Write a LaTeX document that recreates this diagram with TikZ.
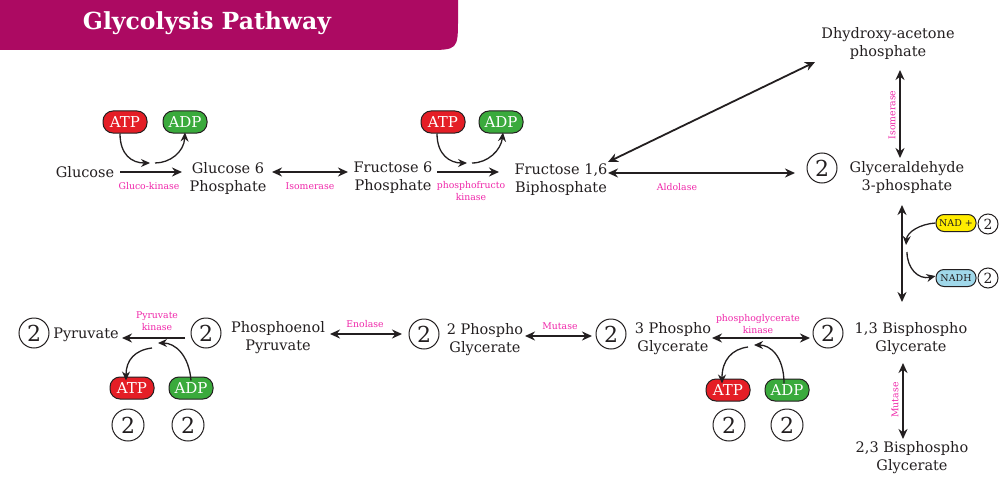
\documentclass[tikz,border=0pt]{standalone}
\usepackage{fontspec}
\setmainfont{DejaVu Serif}
\usetikzlibrary{arrows.meta}
\definecolor{banner}{RGB}{172,10,98}
\definecolor{enz}{RGB}{240,40,170}
\definecolor{atpred}{RGB}{228,30,38}
\definecolor{adpgreen}{RGB}{58,170,60}
\definecolor{nadyellow}{RGB}{255,236,0}
\definecolor{nadhblue}{RGB}{160,216,234}
\definecolor{ink}{RGB}{35,31,32}
\begin{document}
\begin{tikzpicture}[x=1pt,y=-1pt,
 mol/.style={font=\fontsize{14.5}{18}\selectfont, align=center, text=ink, inner sep=0pt},
 enzyme/.style={font=\fontsize{9.3}{12}\selectfont, text=enz, align=center, inner sep=0pt},
 pill/.style={draw=ink, line width=1pt, rounded corners=10pt, minimum width=44pt, minimum height=22pt, inner sep=0pt, text=white, font=\fontsize{15}{15}\selectfont},
 smallpill/.style={pill, rounded corners=8pt, minimum width=40pt, minimum height=17pt, text=ink, font=\fontsize{9.5}{9.5}\selectfont},
 num/.style={circle, draw=ink, line width=1pt, minimum size=30pt, inner sep=0pt, font=\fontsize{22}{22}\selectfont, text=ink},
 smallnum/.style={num, minimum size=20pt, font=\fontsize{14}{14}\selectfont},
 conn/.style={draw=ink, line width=1.8pt, -{Stealth[length=10pt,width=9pt]}},
 dconn/.style={draw=ink, line width=1.8pt, {Stealth[length=10pt,width=9pt]}-{Stealth[length=10pt,width=9pt]}},
 curv/.style={draw=ink, line width=1.3pt, -{Stealth[length=9pt,width=8pt]}},
]
\useasboundingbox (0,0) rectangle (1000,476);
\fill[white] (0,0) rectangle (1000,476);
% banner
\fill[banner] (0,0) -- (458,0) -- (458,18) .. controls (458,50) .. (426,50) -- (0,50) -- cycle;
\node[font=\bfseries\fontsize{23.5}{23.5}\selectfont, text=white, inner sep=0pt] (title) at (207,23) {Glycolysis Pathway};

% molecules
\node[mol] (glucose) at (85,172) {Glucose};
\node[mol] (g6p) at (228,178) {Glucose 6\\Phosphate};
\node[mol] (f6p) at (393,178) {Fructose 6\\Phosphate};
\node[mol] (f16bp) at (561,180) {Fructose 1,6\\Biphosphate};
\node[mol] (dhap) at (888,44) {Dhydroxy-acetone\\phosphate};
\node[mol] (gap) at (907,177) {Glyceraldehyde\\3-phosphate};
\node[mol] (bpg13) at (911,339) {1,3 Bisphospho\\Glycerate};
\node[mol] (bpg23) at (912,458) {2,3 Bisphospho\\Glycerate};
\node[mol] (pg3) at (673,339) {3 Phospho\\Glycerate};
\node[mol] (pg2) at (485,340) {2 Phospho\\Glycerate};
\node[mol] (pep) at (278,338) {Phosphoenol\\Pyruvate};
\node[mol] (pyr) at (86,335) {Pyruvate};

% number circles
\node[num] (n1) at (822,168) {2};
\node[num] (n2) at (828,333) {2};
\node[num] (n3) at (611,334) {2};
\node[num] (n4) at (424,334) {2};
\node[num] (n5) at (206,333) {2};
\node[num] (n6) at (34,333) {2};
\node[num, minimum size=32pt] (n7) at (128,425) {2};
\node[num, minimum size=32pt] (n8) at (188,425) {2};
\node[num, minimum size=32pt] (n9) at (729,425) {2};
\node[num, minimum size=32pt] (n10) at (787,425) {2};
\node[smallnum] (n11) at (988,224) {2};
\node[smallnum] (n12) at (988,278) {2};

% pills
\node[pill, fill=atpred] (atp1) at (125,122) {ATP};
\node[pill, fill=adpgreen] (adp1) at (185,122) {ADP};
\node[pill, fill=atpred] (atp2) at (443,122) {ATP};
\node[pill, fill=adpgreen] (adp2) at (501,122) {ADP};
\node[pill, fill=atpred] (atp3) at (132,388) {ATP};
\node[pill, fill=adpgreen] (adp3) at (191,388) {ADP};
\node[pill, fill=atpred] (atp4) at (728,390) {ATP};
\node[pill, fill=adpgreen] (adp4) at (787,390) {ADP};
\node[smallpill, fill=nadyellow] (nad) at (956,223) {NAD +};
\node[smallpill, fill=nadhblue] (nadh) at (956,278) {NADH};

% enzyme labels
\node[enzyme] (e1) at (149,186) {Gluco-kinase};
\node[enzyme] (e2) at (310,186) {Isomerase};
\node[enzyme] (e3) at (471,191) {phosphofructo\\kinase};
\node[enzyme] (e4) at (677,187) {Aldolase};
\node[enzyme, rotate=90] (e5) at (892,115) {Isomerase};
\node[enzyme] (e6) at (758,324) {phosphoglycerate\\kinase};
\node[enzyme] (e7) at (560,326) {Mutase};
\node[enzyme] (e8) at (365,324) {Enolase};
\node[enzyme] (e9) at (157,321) {Pyruvate\\kinase};
\node[enzyme, rotate=90] (e10) at (895,400) {Mutase};

% main connectors
\coordinate (c1a) at (120,172); \coordinate (c1b) at (182,172);
\draw[conn] (c1a) -- (c1b);
\coordinate (c2a) at (272,172); \coordinate (c2b) at (348,172);
\draw[dconn] (c2a) -- (c2b);
\coordinate (c3a) at (437,172); \coordinate (c3b) at (499,172);
\draw[conn] (c3a) -- (c3b);
\coordinate (c4a) at (608,173); \coordinate (c4b) at (795,173);
\draw[dconn] (c4a) -- (c4b);
\coordinate (c5a) at (608,162); \coordinate (c5b) at (815,62);
\draw[dconn] (c5a) -- (c5b);
\coordinate (c6a) at (900,70); \coordinate (c6b) at (900,158);
\draw[dconn] (c6a) -- (c6b);
\coordinate (c7a) at (902,205); \coordinate (c7b) at (902,302);
\draw[dconn] (c7a) -- (c7b);
\coordinate (c8a) at (712,338); \coordinate (c8b) at (810,338);
\draw[dconn] (c8a) -- (c8b);
\coordinate (c9a) at (525,336); \coordinate (c9b) at (592,336);
\draw[dconn] (c9a) -- (c9b);
\coordinate (c10a) at (330,334); \coordinate (c10b) at (402,334);
\draw[dconn] (c10a) -- (c10b);
\coordinate (c11a) at (185,338); \coordinate (c11b) at (122,338);
\draw[conn] (c11a) -- (c11b);
\coordinate (c12a) at (903,363); \coordinate (c12b) at (903,439);
\draw[dconn] (c12a) -- (c12b);

% cofactor curves
\coordinate (k1) at (150,163); \coordinate (k2) at (155,163);
\draw[curv] ([xshift=-5pt]atp1.south) .. controls (120,155) and (132,163) .. (k1);
\draw[curv] (k2) .. controls (170,163) and (184,152) .. ([yshift=1pt]adp1.south);
\coordinate (k3) at (467,163); \coordinate (k4) at (472,163);
\draw[curv] ([xshift=-6pt]atp2.south) .. controls (437,155) and (450,163) .. (k3);
\draw[curv] (k4) .. controls (488,163) and (501,150) .. ([xshift=2pt,yshift=1pt]adp2.south);
\coordinate (k5) at (158,343); \coordinate (k6) at (152,348);
\draw[curv] ([yshift=-4pt]adp3.north) .. controls (189,355) and (175,343) .. (k5);
\draw[curv] (k6) .. controls (135,350) and (126,360) .. ([xshift=-6pt,yshift=-4pt]atp3.north);
\coordinate (k7) at (754,345); \coordinate (k8) at (748,347);
\draw[curv] ([xshift=-3pt,yshift=-5pt]adp4.north) .. controls (784,356) and (770,345) .. (k7);
\draw[curv] (k8) .. controls (732,349) and (722,360) .. ([xshift=-6pt,yshift=-5pt]atp4.north);
\coordinate (k9) at (906,245); \coordinate (k10) at (907,252);
\draw[curv] (nad.west) .. controls (920,224) and (907,232) .. (k9);
\draw[curv] (k10) .. controls (907,268) and (918,280) .. ([yshift=2pt]nadh.west);
\end{tikzpicture}
\end{document}
